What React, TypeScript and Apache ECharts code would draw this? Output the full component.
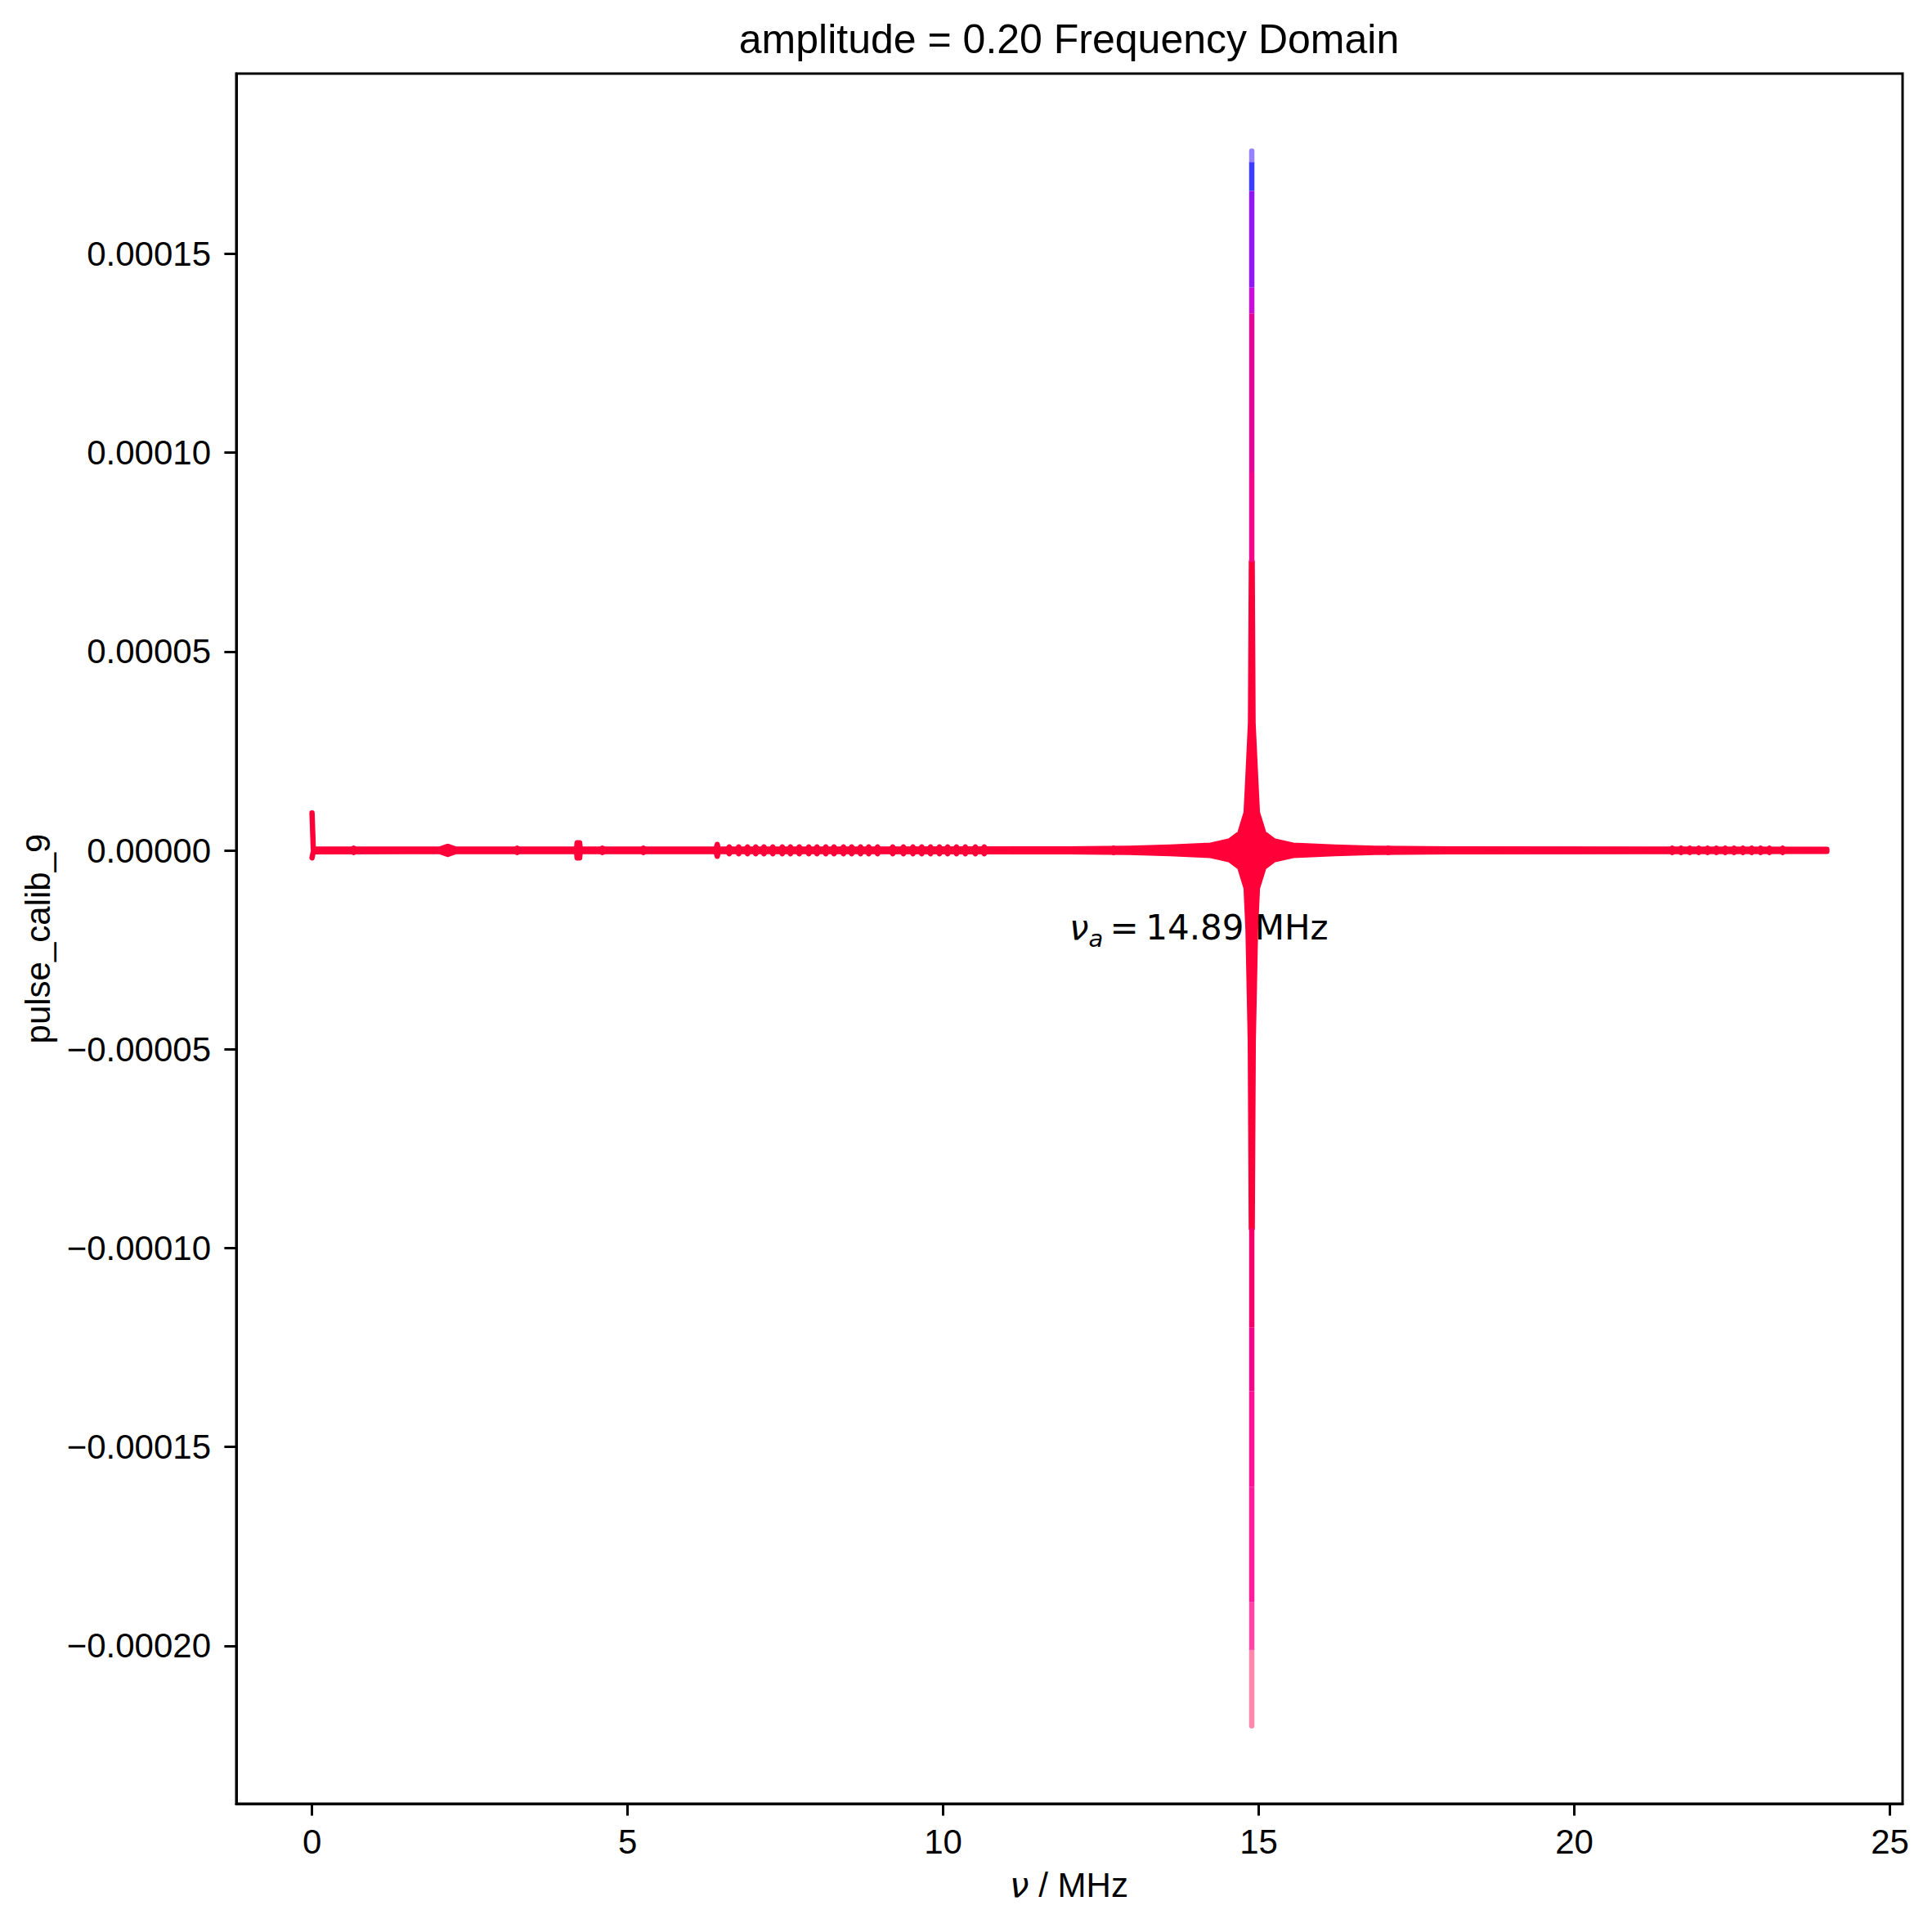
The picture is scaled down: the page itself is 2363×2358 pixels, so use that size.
import React, { useEffect, useRef } from "react";
import * as echarts from "echarts";

// ---- data ----
const xTicks = [0, 5, 10, 15, 20, 25];
const yTicks = [-0.0002, -0.00015, -0.0001, -0.00005, 0, 0.00005, 0.0001, 0.00015];

// upper envelope of the spectrum (x in MHz, y in signal units)
const upperEnvelope: [number, number][] = [
  [0.0, 9.4e-6], [0.02, 0.35e-6], [2.02, 0.3e-6], [2.15, 1.0e-6], [2.28, 0.3e-6],
  [4.19, 0.3e-6], [4.2, 1.9e-6], [4.24, 1.9e-6], [4.25, 0.3e-6],
  [6.4, 0.3e-6], [6.42, 1.5e-6], [6.44, 0.3e-6],
  [12.0, 0.35e-6], [12.95, 0.5e-6], [13.6, 0.8e-6], [14.24, 1.3e-6], [14.54, 2.4e-6],
  [14.7, 4.3e-6], [14.8, 9.5e-6], [14.827, 1.8e-5], [14.869, 3.2e-5], [14.883, 7.25e-5],
  [14.895, 7.25e-5], [14.909, 3.2e-5], [14.951, 1.8e-5], [14.978, 9.5e-6], [15.08, 4.3e-6],
  [15.24, 2.4e-6], [15.54, 1.3e-6], [16.2, 0.8e-6], [16.83, 0.5e-6], [18.0, 0.35e-6],
  [24.0, 0.25e-6],
];

// lower envelope of the spectrum
const lowerEnvelope: [number, number][] = [
  [0.0, -1.9e-6], [0.02, -0.35e-6], [2.02, -0.3e-6], [2.15, -1.0e-6], [2.28, -0.3e-6],
  [4.19, -0.3e-6], [4.2, -1.9e-6], [4.24, -1.9e-6], [4.25, -0.3e-6],
  [6.4, -0.3e-6], [6.42, -1.5e-6], [6.44, -0.3e-6],
  [12.0, -0.35e-6], [12.95, -0.5e-6], [13.6, -0.8e-6], [14.24, -1.3e-6], [14.54, -2.4e-6],
  [14.7, -4.3e-6], [14.8, -9.5e-6], [14.83, -2.0e-5], [14.866, -4.8e-5], [14.882, -9.5e-5],
  [14.896, -9.5e-5], [14.912, -4.8e-5], [14.948, -2.0e-5], [14.978, -9.5e-6], [15.08, -4.3e-6],
  [15.24, -2.4e-6], [15.54, -1.3e-6], [16.2, -0.8e-6], [16.83, -0.5e-6], [18.0, -0.35e-6],
  [24.0, -0.25e-6],
];

// small oscillation "beads" along the baseline
const beadsMid = [6.61, 6.76, 6.9, 7.03, 7.16, 7.3, 7.45, 7.58, 7.72, 7.87, 8.0, 8.14, 8.27, 8.42,
  8.55, 8.69, 8.82, 8.96, 9.2, 9.37, 9.52, 9.66, 9.8, 9.94, 10.07, 10.21, 10.35, 10.51, 10.65];
const beadsHigh = [21.55, 21.69, 21.83, 21.97, 22.11, 22.25, 22.39, 22.53, 22.67, 22.81, 22.95, 23.09, 23.3];
const smallMarks = [0.66, 3.25, 4.6, 5.25, 12.7, 17.05];

// spike at the resonance: overlapping traces give coloured bands
const spikeX = 14.889;
const spikeUpperLevels = [1.758e-4, 1.73e-4, 1.658e-4, 1.415e-4, 1.35e-4, 0.95e-4, 0.725e-4];
const spikeUpperColors = ["#9682ff", "#3c3cff", "#9119f0", "#c80fd7", "#e00a96", "#f4088a"];
const spikeLowerLevels = [-0.95e-4, -1.2e-4, -1.36e-4, -1.6e-4, -1.89e-4, -2.01e-4, -2.201e-4];
const spikeLowerColors = ["#f5006a", "#f0088c", "#ff1094", "#ff1c9c", "#ff45a8", "#ff88ac"];

const annotX = 12;
const annotY = -1.94e-5;

const RED = "#ff0038";
const LW = 6.5;

export default function App() {
  const ref = useRef<HTMLDivElement>(null);
  useEffect(() => {
    if (!ref.current) return;
    const chart = echarts.init(ref.current, undefined, { renderer: "svg" });
    const series: any[] = [];
    series.push({
      type: "line", data: upperEnvelope, showSymbol: false, symbol: "none",
      lineStyle: { color: RED, width: LW, cap: "round", join: "round" },
      areaStyle: { color: RED, opacity: 1 }, z: 2,
    });
    series.push({
      type: "line", data: lowerEnvelope, showSymbol: false, symbol: "none",
      lineStyle: { color: RED, width: LW, cap: "round", join: "round" },
      areaStyle: { color: RED, opacity: 1 }, z: 2,
    });
    series.push({
      type: "scatter", data: beadsMid.map((x) => [x, 0]), symbol: "circle",
      symbolSize: [9, 15], itemStyle: { color: RED, opacity: 1 }, z: 2,
    });
    series.push({
      type: "scatter", data: beadsHigh.map((x) => [x, 0]), symbol: "circle",
      symbolSize: [8, 12], itemStyle: { color: RED, opacity: 1 }, z: 2,
    });
    series.push({
      type: "scatter", data: smallMarks.map((x) => [x, 0]), symbol: "circle",
      symbolSize: [8, 12], itemStyle: { color: RED, opacity: 1 }, z: 2,
    });
    // outermost bands first (round caps), inner ones over them
    for (let i = 0; i < spikeUpperColors.length; i++) {
      series.push({
        type: "line", showSymbol: false, symbol: "none", z: 3,
        data: [[spikeX, spikeUpperLevels[i]], [spikeX, spikeUpperLevels[i + 1]]],
        lineStyle: { color: spikeUpperColors[i], width: LW, cap: i === 0 ? "round" : "butt" },
      });
    }
    for (let i = spikeLowerColors.length - 1; i >= 0; i--) {
      series.push({
        type: "line", showSymbol: false, symbol: "none", z: 3,
        data: [[spikeX, spikeLowerLevels[i]], [spikeX, spikeLowerLevels[i + 1]]],
        lineStyle: { color: spikeLowerColors[i], width: LW, cap: i === spikeLowerColors.length - 1 ? "round" : "butt" },
      });
    }

    const axisFont = { fontFamily: "Liberation Sans", fontSize: 42, color: "#000" };
    chart.setOption({
      animation: false,
      backgroundColor: "#fff",
      grid: { left: 289, top: 90, width: 2038, height: 2116, show: true, borderColor: "#000", borderWidth: 3, backgroundColor: "transparent" },
      xAxis: {
        type: "value", min: -1.2, max: 25.2,
        axisLine: { show: true, onZero: false, lineStyle: { color: "#000", width: 3 } },
        axisTick: { show: true, length: 14.6, inside: false, lineStyle: { color: "#000", width: 3 }, customValues: xTicks },
        axisLabel: { ...axisFont, lineHeight: 42, margin: 25, customValues: xTicks, formatter: (v: number) => String(v) },
        splitLine: { show: false },
      },
      yAxis: {
        type: "value", min: -0.0002397, max: 0.0001953,
        axisLine: { show: true, onZero: false, lineStyle: { color: "#000", width: 3 } },
        axisTick: { show: true, length: 14.6, inside: false, lineStyle: { color: "#000", width: 3 }, customValues: yTicks },
        axisLabel: {
          ...axisFont, margin: 31, customValues: yTicks,
          formatter: (v: number) => v.toFixed(5).replace("-", "\u2212"),
        },
        splitLine: { show: false },
      },
      series,
      graphic: [
        {
          type: "text", x: 1307.5, y: 47.7, z: 10,
          style: { text: "amplitude = 0.20 Frequency Domain", fontFamily: "Liberation Sans", fontSize: 50, fill: "#000", align: "center", verticalAlign: "middle" },
        },
        {
          type: "text", x: 1307.5, y: 2305, z: 10,
          style: {
            text: "{nu|\u03bd}{t| / MHz}", align: "center", verticalAlign: "middle", fill: "#000",
            rich: {
              nu: { fontFamily: "DejaVu Sans", fontStyle: "italic", fontSize: 42, fill: "#000", lineHeight: 42 },
              t: { fontFamily: "Liberation Sans", fontSize: 42, fill: "#000", lineHeight: 42 },
            },
          },
        },
        {
          type: "text", x: 46, y: 1148, rotation: Math.PI / 2, z: 10,
          style: { text: "pulse_calib_9", fontFamily: "Liberation Sans", fontSize: 42, fill: "#000", align: "center", verticalAlign: "middle" },
        },
      ],
    });

    const p = chart.convertToPixel({ gridIndex: 0 } as any, [annotX, annotY]) as number[];
    chart.setOption({
      graphic: [
        {
          type: "text", id: "annot", x: p[0], y: p[1], z: 20,
          style: {
            text: "{nu|\u03bd}{sub|a}{t|\u2009=\u200914.89 MHz}", align: "left", verticalAlign: "middle", fill: "#000",
            rich: {
              nu: { fontFamily: "DejaVu Sans", fontStyle: "italic", fontSize: 42, fill: "#000", lineHeight: 56 },
              sub: { fontFamily: "DejaVu Sans", fontStyle: "italic", fontSize: 29, fill: "#000", lineHeight: 29, verticalAlign: "bottom" },
              t: { fontFamily: "DejaVu Sans", fontSize: 42, fill: "#000", lineHeight: 56 },
            },
          },
        },
      ],
    });

    return () => chart.dispose();
  }, []);
  return <div ref={ref} style={{ position: "absolute", left: 0, top: 0, width: 2363, height: 2358 }} />;
}
